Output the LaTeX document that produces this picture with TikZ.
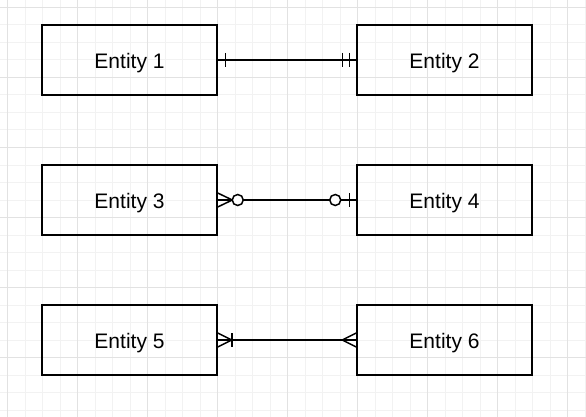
\documentclass[tikz,border=0pt]{standalone}
\usepackage{fontspec}
\setmainfont{Liberation Sans}
\usetikzlibrary{calc}
\definecolor{gridminor}{HTML}{F2F2F2}
\definecolor{gridmajor}{HTML}{E2E2E2}
\begin{document}
\begin{tikzpicture}[x=1pt,y=-1pt,
  entity/.style={draw=black,line width=1.5pt,minimum width=175pt,minimum height=70pt,inner sep=0pt,text height=17.6pt,text depth=0pt,font=\fontsize{21}{25}\selectfont},
  rel/.style={line width=1.5pt,line join=miter},
  minorline/.style={gridminor,line width=1pt},
  majorline/.style={gridmajor,line width=1pt}]
\useasboundingbox (0,0) rectangle (586,417);
\fill[white] (0,0) rectangle (586,417);
\foreach \i in {0,...,33} \draw[minorline] ({7.5+17.5*\i},0) -- ({7.5+17.5*\i},417);
\foreach \i in {0,...,23} \draw[minorline] (0,{7.5+17.5*\i}) -- (586,{7.5+17.5*\i});
\foreach \i in {0,...,8} \draw[majorline] ({7.5+70*\i},0) -- ({7.5+70*\i},417);
\foreach \i in {0,...,5} \draw[majorline] (0,{7.5+70*\i}) -- (586,{7.5+70*\i});

\node[entity] (e1) at (129.5,60) {Entity 1};
\node[entity] (e2) at (444.5,60) {Entity 2};
\node[entity] (e3) at (129.5,200) {Entity 3};
\node[entity] (e4) at (444.5,200) {Entity 4};
\node[entity] (e5) at (129.5,340) {Entity 5};
\node[entity] (e6) at (444.5,340) {Entity 6};

% row 1: one -- mandatory one
\draw[rel] (e1.east) -- (e2.west);
\draw[rel] ($(e1.east)+(7.5,-7)$) -- ($(e1.east)+(7.5,7)$);
\draw[rel] ($(e2.west)+(-7,-7)$) -- ($(e2.west)+(-7,7)$);
\draw[rel] ($(e2.west)+(-14,-7)$) -- ($(e2.west)+(-14,7)$);

% row 2: zero-to-many -- zero-to-one
\draw[rel] (e3.east) -- (e4.west);
\draw[rel] ($(e3.east)+(0,-7)$) -- ($(e3.east)+(14.5,0)$) -- ($(e3.east)+(0,7)$);
\draw[rel,fill=white] ($(e3.east)+(20,0)$) circle (5.5);
\draw[rel,fill=white] ($(e4.west)+(-21,0)$) circle (5.5);
\draw[rel] ($(e4.west)+(-7,-7)$) -- ($(e4.west)+(-7,7)$);

% row 3: one-to-many -- many
\draw[rel] (e5.east) -- (e6.west);
\draw[rel] ($(e5.east)+(0,-7)$) -- ($(e5.east)+(14,0)$) -- ($(e5.east)+(0,7)$);
\draw[rel] ($(e5.east)+(14,-7)$) -- ($(e5.east)+(14,7)$);
\draw[rel] ($(e6.west)+(0,-7)$) -- ($(e6.west)+(-14,0)$) -- ($(e6.west)+(0,7)$);
\end{tikzpicture}
\end{document}
